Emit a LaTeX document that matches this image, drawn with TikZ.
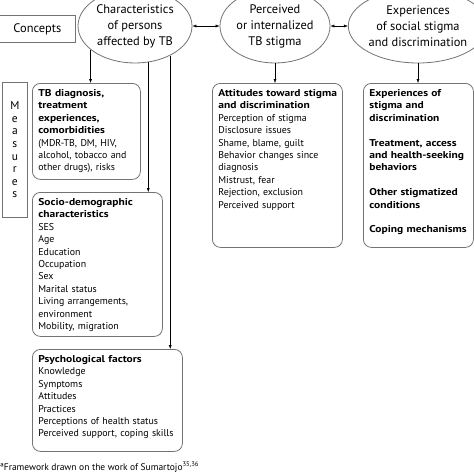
\documentclass[tikz,border=0pt]{standalone}
\usepackage{fontspec}
\setmainfont{PT Sans}[BoldFeatures={FakeStretch=1.16}]
\usetikzlibrary{shapes.geometric,arrows.meta}
\definecolor{linegray}{gray}{0.45}
\newcommand{\boxhead}[1]{\mbox{\textbf{#1}}}
\tikzset{my ellipse/.style={draw=linegray, thick, ellipse, minimum width=112pt, minimum height=74pt, inner sep=0pt, align=center, font=\fontsize{12.4}{16}\selectfont},
my box/.style={draw=linegray, thick, rounded corners=8pt, anchor=north west, align=left, inner xsep=6pt, inner ysep=6pt, text height=7pt, font=\fontsize{9.9}{12.4}\selectfont},
my arrow/.style={-{Latex[length=4pt,width=3pt]}, thin},}

\begin{document}
\begin{tikzpicture}[x=1pt,y=-1pt]
\clip (0,0) rectangle (474,474);
\node [draw=linegray, thick, anchor=north west, minimum width=76pt, minimum height=27pt, font=\fontsize{12.4}{14}\selectfont] (concepts) at (-1,15) {Concepts};
\node [draw=linegray, thick, anchor=north west, minimum width=25pt, minimum height=135pt, inner sep=0pt, align=center, font=\fontsize{11.5}{12.6}\selectfont] (measures) at (2,82) {M\\e\\a\\s\\u\\r\\e\\s};
\node [my ellipse, minimum width=114pt] (persons) at (135,26) {Characteristics\\of persons\\affected by TB};
\node [my ellipse, minimum width=110pt] (perceived) at (275,26) {Perceived\\or internalized\\TB stigma};
\node [my ellipse] (experienced) at (418,26) {Experiences\\of social stigma\\and discrimination};
\node [my box, text width=96pt, text depth=77pt] (diagnosis) at (32,83) {\boxhead{TB diagnosis,}\\\boxhead{treatment}\\\boxhead{experiences,}\\\boxhead{comorbidities}\\\mbox{(MDR-TB, DM, HIV,}\\\mbox{alcohol, tobacco and}\\\mbox{other drugs), risks}};
\node [my box, text width=118pt, text depth=125pt] (socio) at (32,192) {\boxhead{Socio-demographic}\\\boxhead{characteristics}\\SES\\Age\\Education\\Occupation\\Sex\\Marital status\\Living arrangements,\\environment\\Mobility, migration};
\node [my box, text width=138pt, text depth=83pt] (psych) at (32,349) {\boxhead{Psychological factors}\\Knowledge\\Symptoms\\Attitudes\\Practices\\Perceptions of health status\\\mbox{Perceived support, coping skills}};
\node [my box, text width=118pt, text depth=145pt] (attitudes) at (212,83) {\boxhead{Attitudes toward stigma}\\\boxhead{and discrimination}\\Perception of stigma\\Disclosure issues\\Shame, blame, guilt\\\mbox{Behavior changes since}\\diagnosis\\Mistrust, fear\\Rejection, exclusion\\Perceived support};
\node [my box, text width=98pt, text depth=145pt] (stigma) at (363,83) {\boxhead{Experiences of}\\\boxhead{stigma and}\\\boxhead{discrimination}\\[12.4pt]\boxhead{Treatment, access}\\\boxhead{and health-seeking}\\\boxhead{behaviors}\\[12.4pt]\boxhead{Other stigmatized}\\\boxhead{conditions}\\[12.4pt]\boxhead{Coping mechanisms}};
\node [anchor=north west, inner sep=0pt, font=\fontsize{9.5}{11}\selectfont] (note) at (0,462) {ªFramework drawn on the work of Sumartojo\textsuperscript{35,36}};
% links between the concepts
\draw [{Latex[length=4pt,width=3pt]}-{Latex[length=4pt,width=3pt]}, thin] (persons) -- (perceived);
\draw [{Latex[length=4pt,width=3pt]}-{Latex[length=4pt,width=3pt]}, thin] (perceived) -- (experienced);
% concepts to measures
\draw [my arrow] (persons.208) -- (persons.208 |- diagnosis.north);
\draw [my arrow] (persons.290) -- (persons.290 |- socio.north);
\draw [my arrow] (persons.320) -- (persons.320 |- psych.north);
\draw [my arrow] (perceived.south) -- (perceived.south |- attitudes.north);
\draw [my arrow] (experienced.south) -- (experienced.south |- stigma.north);
\end{tikzpicture}
\end{document}
